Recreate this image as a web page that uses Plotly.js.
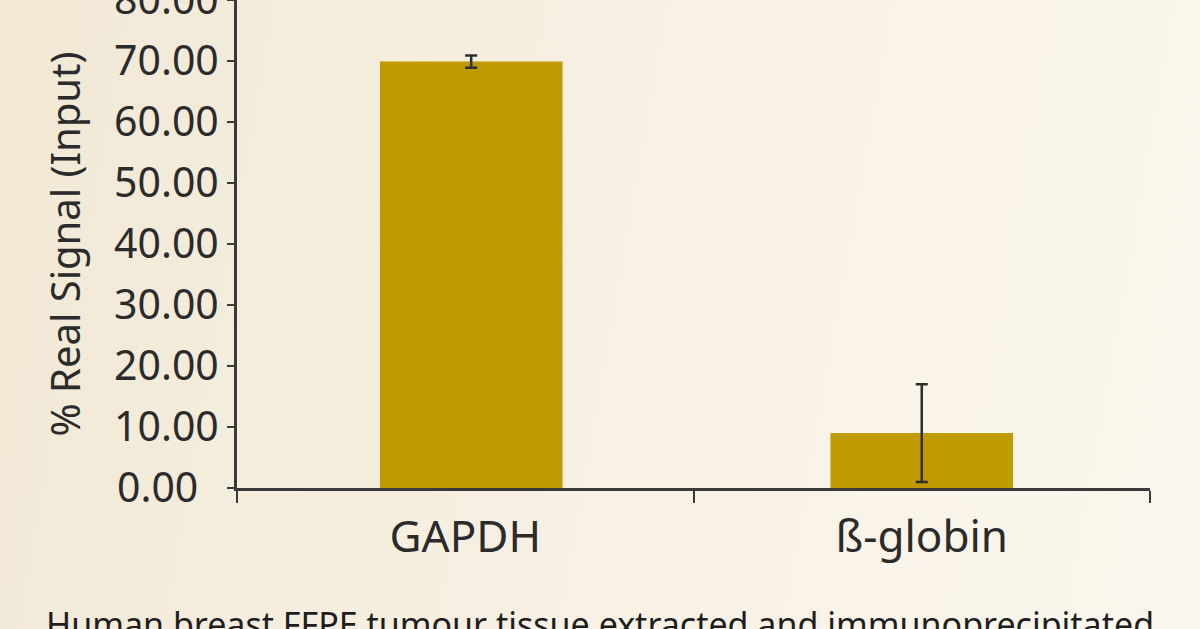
<!DOCTYPE html>
<html>
<head>
<meta charset="utf-8">
<script src="https://cdn.plot.ly/plotly-3.0.1.min.js"></script>
<style>
html, body { margin: 0; padding: 0; }
body { width: 1200px; height: 629px; overflow: hidden;
  background: linear-gradient(100deg, #f1e8d5 0%, #f7f0e2 45%, #fbf7ee 100%); }
#chart { width: 1200px; height: 629px; }
</style>
</head>
<body>
<div id="chart"></div>
<script>
const categories = ["GAPDH", "ß-globin"];
const values = [69.9, 9.0];
const errors = [1.0, 8.0];
const yTickValues = [0, 10, 20, 30, 40, 50, 60, 70, 80];
const yTickLabels = ["0.00\u2002", "10.00", "20.00", "30.00", "40.00", "50.00", "60.00", "70.00", "80.00"];
const yTitle = "% Real Signal (Input)";
const caption = "Human breast FFPE tumour tissue extracted and immunoprecipitated";

const font = "'Noto Sans', 'Open Sans', sans-serif";

const trace = {
  type: "bar",
  x: categories,
  y: values,
  width: 0.4,
  offset: [-0.187, -0.2],
  marker: { color: "#bf9a00" },
  error_y: { type: "data", array: errors, visible: true, color: "#2e2e2e", thickness: 2.5, width: 6 },
  hoverinfo: "none"
};

const layout = {
  width: 1200, height: 629,
  margin: { l: 237, r: 50, t: 0, b: 141, pad: 0 },
  paper_bgcolor: "rgba(0,0,0,0)",
  plot_bgcolor: "rgba(0,0,0,0)",
  showlegend: false,
  font: { family: font, color: "#2b2b2b" },
  xaxis: {
    type: "category",
    showline: true, linecolor: "#3a3a3a", linewidth: 3,
    ticks: "outside", tickson: "boundaries", ticklen: 12, tickwidth: 2, tickcolor: "#3a3a3a",
    ticklabelstandoff: 8,
    tickfont: { size: 44, family: font, color: "#2b2b2b" },
    showgrid: false, zeroline: false, fixedrange: true
  },
  yaxis: {
    range: [0, 80],
    tickvals: yTickValues, ticktext: yTickLabels,
    ticklabeloverflow: "allow",
    showline: true, linecolor: "#3a3a3a", linewidth: 3,
    ticks: "outside", ticklen: 7, tickwidth: 2, tickcolor: "#3a3a3a",
    tickfont: { size: 41, family: font, color: "#2b2b2b" },
    showgrid: false, zeroline: false, fixedrange: true,
    title: { text: yTitle, font: { size: 40, family: font, color: "#2b2b2b" }, standoff: 22 }
  },
  annotations: [{
    text: caption, xref: "paper", yref: "paper",
    x: 0.398, y: -0.228, xanchor: "center", yanchor: "top",
    showarrow: false, font: { size: 34, family: font, color: "#1e1e1e" }
  }]
};

Plotly.newPlot("chart", [trace], layout, { displayModeBar: false, staticPlot: true });
</script>
</body>
</html>
